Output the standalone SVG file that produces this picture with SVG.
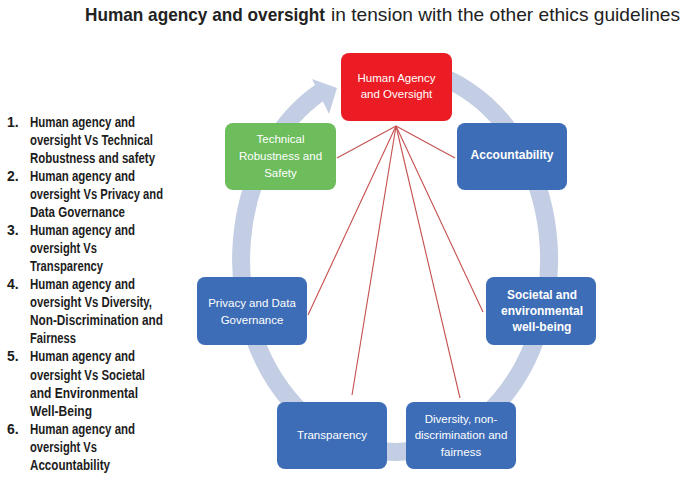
<svg xmlns="http://www.w3.org/2000/svg" width="685" height="480" viewBox="0 0 685 480">
<style>
.title{font-family:"Liberation Sans",Arial,sans-serif;font-size:19px;fill:#222}
.lst{font-family:"Liberation Sans",Arial,sans-serif;font-size:14px;font-weight:bold;fill:#1c1c1c}
.node rect{stroke:none}
.blue{fill:#3d6db6}
.red{fill:#ec1c24}
.green{fill:#6dbd5c}
.lbl{font-family:"Liberation Sans",Arial,sans-serif;font-size:11.5px;fill:#fff;text-anchor:middle}
.lblb{font-family:"Liberation Sans",Arial,sans-serif;font-size:13.5px;font-weight:bold;fill:#fff;text-anchor:middle}
.conn line{stroke:#c4504e;stroke-width:1.1}
</style>
<rect width="685" height="480" fill="#fff"/>
<text class="title" x="85" y="21" font-weight="bold" textLength="240" lengthAdjust="spacingAndGlyphs">Human agency and oversight</text>
<text class="title" x="331" y="21" textLength="349" lengthAdjust="spacingAndGlyphs">in tension with the other ethics guidelines</text>

<g id="list" class="lst">
<text x="7" y="126.5">1.</text>
<text x="30" y="126.5" textLength="105" lengthAdjust="spacingAndGlyphs">Human agency and</text>
<text x="30" y="144.6" textLength="123" lengthAdjust="spacingAndGlyphs">oversight Vs Technical</text>
<text x="30" y="162.7" textLength="125" lengthAdjust="spacingAndGlyphs">Robustness and safety</text>
<text x="7" y="180.7">2.</text>
<text x="30" y="180.7" textLength="105" lengthAdjust="spacingAndGlyphs">Human agency and</text>
<text x="30" y="198.8" textLength="133" lengthAdjust="spacingAndGlyphs">oversight Vs Privacy and</text>
<text x="30" y="216.9" textLength="95" lengthAdjust="spacingAndGlyphs">Data Governance</text>
<text x="7" y="234.9">3.</text>
<text x="30" y="234.9" textLength="105" lengthAdjust="spacingAndGlyphs">Human agency and</text>
<text x="30" y="253" textLength="67" lengthAdjust="spacingAndGlyphs">oversight Vs</text>
<text x="30" y="271.1" textLength="73" lengthAdjust="spacingAndGlyphs">Transparency</text>
<text x="7" y="289.1">4.</text>
<text x="30" y="289.1" textLength="105" lengthAdjust="spacingAndGlyphs">Human agency and</text>
<text x="30" y="307.2" textLength="122" lengthAdjust="spacingAndGlyphs">oversight Vs Diversity,</text>
<text x="30" y="325.3" textLength="133" lengthAdjust="spacingAndGlyphs">Non-Discrimination and</text>
<text x="30" y="343.4" textLength="46" lengthAdjust="spacingAndGlyphs">Fairness</text>
<text x="7" y="361.4">5.</text>
<text x="30" y="361.4" textLength="105" lengthAdjust="spacingAndGlyphs">Human agency and</text>
<text x="30" y="379.5" textLength="115" lengthAdjust="spacingAndGlyphs">oversight Vs Societal</text>
<text x="30" y="397.6" textLength="108" lengthAdjust="spacingAndGlyphs">and Environmental</text>
<text x="30" y="415.6" textLength="62" lengthAdjust="spacingAndGlyphs">Well-Being</text>
<text x="7" y="433.7">6.</text>
<text x="30" y="433.7" textLength="105" lengthAdjust="spacingAndGlyphs">Human agency and</text>
<text x="30" y="451.8" textLength="67" lengthAdjust="spacingAndGlyphs">oversight Vs</text>
<text x="30" y="469.9" textLength="80" lengthAdjust="spacingAndGlyphs">Accountability</text>
</g>

<g id="cycle">
<path d="M400,68 A154,192 0 1 1 320,92.3" fill="none" stroke="#c3cde3" stroke-width="18"/>
<polygon points="312,79 337,88 329,114" fill="#c3cde3"/>
</g>

<g id="connectors" class="conn">
<line x1="396" y1="126" x2="337" y2="158"/>
<line x1="396" y1="126" x2="455" y2="158"/>
<line x1="396" y1="126" x2="308" y2="315"/>
<line x1="396" y1="126" x2="352" y2="395"/>
<line x1="396" y1="126" x2="460" y2="398"/>
<line x1="396" y1="126" x2="483" y2="312"/>
</g>

<g id="human-agency" class="node">
<rect class="red" x="341" y="53" width="111" height="68" rx="8"/>
<text class="lbl" x="396.5" y="81.5">Human Agency</text>
<text class="lbl" x="396.5" y="98">and Oversight</text>
</g>
<g id="technical-robustness" class="node">
<rect class="green" x="225" y="123" width="111" height="67" rx="8"/>
<text class="lbl" x="280.5" y="143">Technical</text>
<text class="lbl" x="280.5" y="160">Robustness and</text>
<text class="lbl" x="280.5" y="177">Safety</text>
</g>
<g id="accountability" class="node">
<rect class="blue" x="457" y="123" width="110" height="67" rx="8"/>
<text class="lblb" x="512" y="159" textLength="83" lengthAdjust="spacingAndGlyphs">Accountability</text>
</g>
<g id="societal" class="node">
<rect class="blue" x="486" y="277" width="110" height="68" rx="8"/>
<text class="lblb" x="542" y="299" textLength="70" lengthAdjust="spacingAndGlyphs">Societal and</text>
<text class="lblb" x="542" y="315" textLength="82" lengthAdjust="spacingAndGlyphs">environmental</text>
<text class="lblb" x="542" y="330.5" textLength="59" lengthAdjust="spacingAndGlyphs">well-being</text>
</g>
<g id="privacy" class="node">
<rect class="blue" x="197" y="277" width="110" height="68" rx="8"/>
<text class="lbl" x="252" y="306.5">Privacy and Data</text>
<text class="lbl" x="252" y="323.5">Governance</text>
</g>
<g id="transparency" class="node">
<rect class="blue" x="277" y="402" width="110" height="67" rx="8"/>
<text class="lbl" x="332" y="438.5">Transparency</text>
</g>
<g id="diversity" class="node">
<rect class="blue" x="406" y="402" width="110" height="67" rx="8"/>
<text class="lbl" x="461" y="422.5">Diversity, non-</text>
<text class="lbl" x="461" y="439">discrimination and</text>
<text class="lbl" x="461" y="456">fairness</text>
</g>
</svg>
